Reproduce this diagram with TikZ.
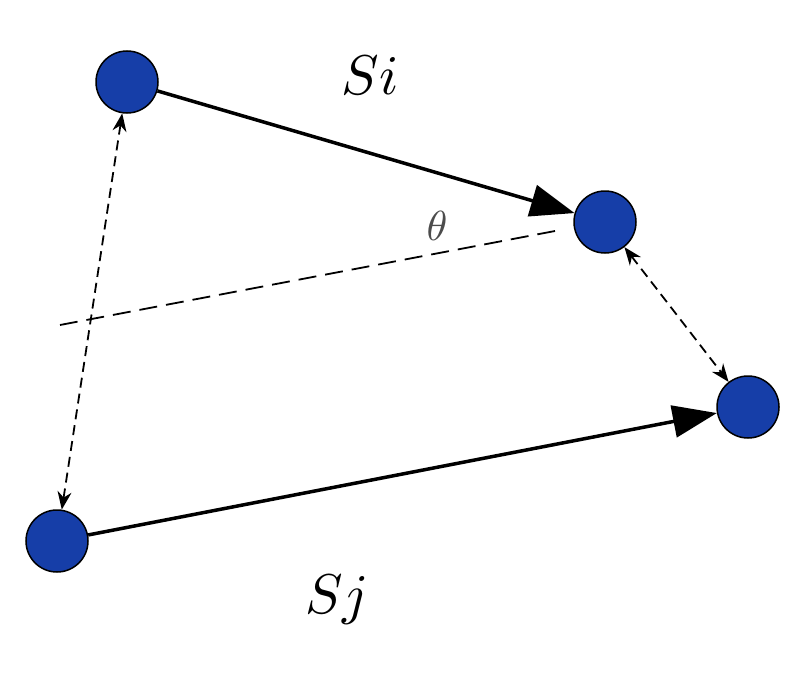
\documentclass[tikz,border=0pt]{standalone}
\usetikzlibrary{arrows.meta}
\definecolor{dotblue}{RGB}{22,62,168}
\begin{document}
\begin{tikzpicture}[x=1pt,y=-1pt,
  dot/.style={circle,fill=dotblue,draw=black,line width=1.5pt,minimum size=62pt,inner sep=0pt},
  solidarrow/.style={line width=3.5pt,-{Triangle[length=44pt,width=32pt]}},
  dasharrow/.style={line width=1.8pt,dash pattern=on 10pt off 6pt,{Stealth[length=18pt,width=14pt]}-{Stealth[length=18pt,width=14pt]}},
  lbl/.style={}]
\useasboundingbox (0,0) rectangle (802,693);
\node[dot] (a) at (127,82) {};
\node[dot] (b) at (605,222) {};
\node[dot] (c) at (748,407) {};
\node[dot] (d) at (57,541) {};
\draw[solidarrow] (a) -- (b);
\draw[solidarrow] (d) -- (c);
\draw[dasharrow] (a) -- (d);
\draw[dasharrow] (b) -- (c);
\coordinate (e) at (60,325);
\coordinate (f) at (555,231);
\draw[line width=1.8pt,dash pattern=on 18pt off 9pt] (f) -- (e);
\node[lbl] (si) at (370,75) {\scalebox{5.6}{$Si$}};
\node[lbl] (sj) at (337,600) {\scalebox{5.6}{$Sj$}};
\node[text=black!70] (th) at (437,226) {\scalebox{4.2}{$\theta$}};
\end{tikzpicture}
\end{document}
